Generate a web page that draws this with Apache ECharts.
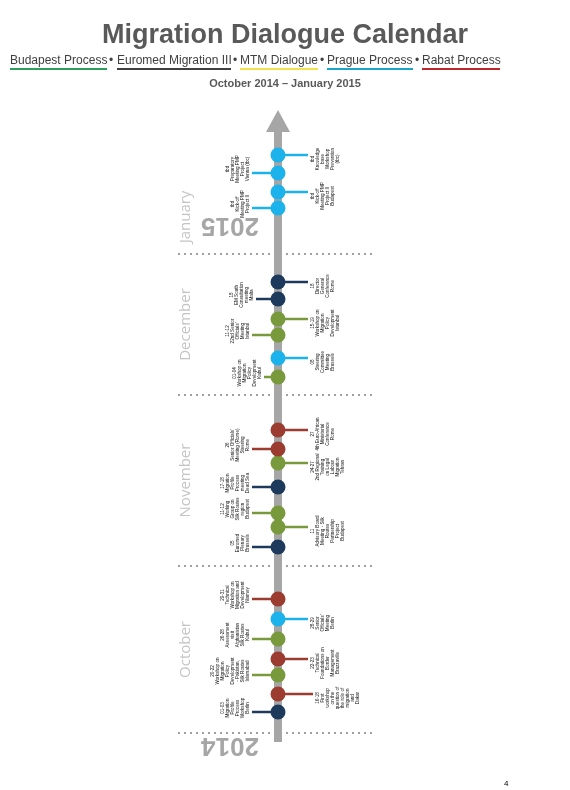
<!DOCTYPE html>
<html><head><meta charset="utf-8">
<script src="https://cdn.jsdelivr.net/npm/echarts@6/dist/echarts.min.js"></script>
<style>html,body{margin:0;padding:0;background:#fff}#c{width:570px;height:790px}</style>
</head><body><div id="c"></div>
<script>
// timeline position of each event (schematic units along the arrow, 0 = bottom)
const processes = ['Budapest Process','Euromed Migration III','MTM Dialogue','Prague Process','Rabat Process'];
const processColors = ['#2e9e5b','#404040','#f2e24b','#19a7c9','#c0272d'];
const eventPos   = [28,46,65,81,101,121,141,193,213,227,253,277,291,310,363,382,405,421,441,458,532,548,567,585];
const eventSide  = [-1,1,-1,1,-1,1,-1,-1,1,-1,-1,1,-1,1,-1,1,-1,1,-1,1,-1,1,-1,1];
const eventLen   = [2.6,3.5,2.6,3,2.6,3,2.6,2.6,3,2.6,2.6,3,2.6,3,1.4,3,2.6,3,2.2,3,2.6,3,2.6,3];
const eventKind  = ['navy','red','green','red','green','cyan','red','navy','green','green','navy','green','red','red','green','cyan','green','green','navy','navy','cyan','cyan','cyan','cyan'];
const eventText  = [
 '01-03\nMigration\nProfile\nProcess\nWorkshop\nBerlin',
 '16-18\nFirst\nworkshop\non the\nquestion of\nthe role of\nmigration\nand\nDakar',
 '20-22\nWorkshop on\nMigration\nPolicy\nDevelopment\n- Pakistan,\nSilk Routes\nIslamabad',
 '22-23\nTechnical\nFoundations on\nBorder\nManagement\nBrazzaville',
 '26-28\nAssessment\nvisit\nAfghanistan\nSilk Routes\nKabul',
 '28-29\nSenior\nOfficials\'\nMeeting\nBerlin',
 '29-31\nTechnical\nWorkshop on\nMigration and\nDevelopment\nNiamey',
 '05\nEuromed\nPlenary\nBrussels',
 '11\nAdvisory Board\nMeeting - Silk\nRoutes\nPartnership\nProject\nBudapest',
 '11-12\nWorking\nGroup on\nSilk Routes\nregion\nBudapest',
 '17-18\nMigration\nProfile\nProcess\nmeeting\nDead Sea',
 '24-27\n2nd Regional\nTraining\non Legal\nLabour\nMigration\nTehran',
 '26\nSenior Officials\'\nMeeting (Rome)\nSteering\nRome',
 '27\n4th Euro-African\nMinisterial\nConference\nRome',
 '01-04\nWorkshop on\nMigration\nPolicy\nDevelopment\nKabul',
 '08\nSteering\nCommittee\nMeeting\nBrussels',
 '11-12\n22nd Senior\nOfficials\'\nMeeting\nIstanbul',
 '15-19\nWorkshop on\nMigration\nPolicy\nDevelopment\nIstanbul',
 '18\nEM South\nConsultation\nmeeting\nMalta',
 '18\nDirector\nGeneral\nConference\nRome',
 'tbd\nKick-off\nMeeting PMP\nProject II',
 'tbd\nKick-off\nMeeting PMP\nProject II\nBudapest',
 'tbd\nPreparatory\nMeeting PMP\nProject\nVienna (tbc)',
 'tbd\nKnowledge\nbase\nWorkshop\nPrevention\n(tbc)'
];
const kindColors = {navy:'#1d3a5c', red:'#9c3b30', green:'#789a3c', cyan:'#1cb2ec'};
const monthNames = ['October','November','December','January'];
const monthDividers = [7,174,345,486];
const monthEnds = [174,345,486,620];
const axisTop = 630;

const chart = echarts.init(document.getElementById('c'));
const evData = eventPos.map((p,i)=>[0,p,eventSide[i],eventLen[i],i]);
const gridLeft=178, gridW=200;
chart.setOption({
  animation:false,
  grid:{left:gridLeft,width:gridW,top:110,bottom:50},
  xAxis:{type:'value',min:-10,max:10,show:false},
  yAxis:{type:'value',min:0,max:axisTop,show:false},
  series:[
    {type:'custom',silent:true,data:monthDividers.map((d,i)=>[d,i]),
     renderItem:(params,api)=>{
       const y=api.value(0), i=api.value(1);
       const a=api.coord([-10,y]), b=api.coord([10,y]);
       const yMid=api.coord([0,(y+monthEnds[i])/2]);
       return {type:'group',children:[
         {type:'line',shape:{x1:a[0],y1:a[1],x2:b[0]-2,y2:b[1]},style:{stroke:'#a0a0a0',lineWidth:2,lineDash:[2,4]}},
         {type:'text',x:a[0]+8,y:i===3?yMid[1]+30:yMid[1],rotation:Math.PI/2,style:{text:monthNames[i],fill:'#c4c4c4',font:'15px "Open Sans"',textAlign:'center',textVerticalAlign:'middle'}}
       ]};
     }},
    {type:'custom',silent:true,data:[[0,0]],
     renderItem:(params,api)=>{
       const b=api.coord([0,-2]), t=api.coord([0,axisTop]);
       return {type:'group',children:[
         {type:'rect',shape:{x:b[0]-4,y:t[1]+20,width:8,height:b[1]-t[1]-20},style:{fill:'#a6a6a6'}},
         {type:'polygon',shape:{points:[[t[0],t[1]],[t[0]-12,t[1]+22],[t[0]+12,t[1]+22]]},style:{fill:'#a6a6a6'}},
         {type:'text',x:t[0]-48,y:api.coord([0,515])[1],rotation:Math.PI,style:{text:'2015',fill:'#a6a6a6',font:'bold 26px Arial',textAlign:'center',textVerticalAlign:'middle'}},
         {type:'text',x:t[0]-48,y:api.coord([0,-5])[1],rotation:Math.PI,style:{text:'2014',fill:'#a6a6a6',font:'bold 26px Arial',textAlign:'center',textVerticalAlign:'middle'}}
       ]};
     }},
    {type:'custom',silent:true,data:evData,
     renderItem:(params,api)=>{
       const p=api.value(1), s=api.value(2), L=api.value(3), i=api.value(4);
       const c=api.coord([0,p]), e=api.coord([s*L,p]);
       const col=kindColors[eventKind[i]];
       return {type:'group',children:[
         {type:'line',shape:{x1:c[0],y1:c[1],x2:e[0],y2:e[1]},style:{stroke:col,lineWidth:2.5}},
         {type:'circle',shape:{cx:c[0],cy:c[1],r:7.5},style:{fill:col}},
         {type:'text',x:e[0]+s*2,y:e[1]+(s>0?4:-4),rotation:Math.PI/2,
          style:{text:eventText[i],fill:'#111',font:'4.6px Arial',lineHeight:5,textAlign:'center',textVerticalAlign:s>0?'top':'bottom'}}
       ]};
     }}
  ],
  graphic:[
    {type:'text',left:'center',top:22,style:{text:'Migration Dialogue Calendar',font:'bold 27px Arial',fill:'#595959'}},
    {type:'text',left:'center',top:78,style:{text:'October 2014 – January 2015',font:'bold 11px Arial',fill:'#595959'}},
    ...processes.flatMap((p,i)=>{
      const xs=[10,117,240,327,422], ws=[97,114,78,86,78];
      const out=[{type:'text',left:xs[i],top:55,style:{text:p,font:'12px Arial',fill:'#404040'}},
                 {type:'rect',shape:{x:xs[i],y:68,width:ws[i],height:2},style:{fill:processColors[i]}}];
      if(i<4) out.push({type:'text',left:xs[i]+ws[i]+2,top:55,style:{text:'•',font:'12px Arial',fill:'#404040'}});
      return out;
    }),
    {type:'text',left:504,top:780,style:{text:'4',font:'8px Arial',fill:'#000'}}
  ]
});
</script></body></html>
